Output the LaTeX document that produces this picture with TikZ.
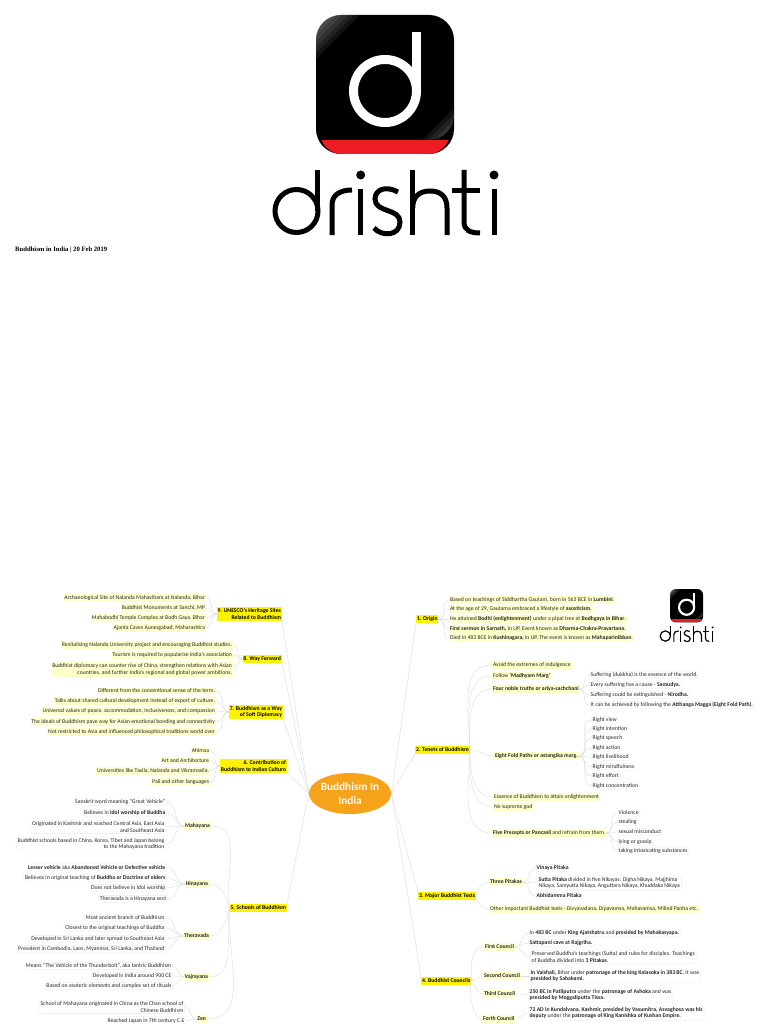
\documentclass[tikz,border=0pt]{standalone}
\usepackage{fontspec}
\usetikzlibrary{shapes.geometric}
\setmainfont{Carlito}
\newfontfamily\hdrfont{Liberation Serif}
\definecolor{leafy}{HTML}{FFFFCC}
\definecolor{hubor}{HTML}{F5A31A}
\definecolor{linegray}{HTML}{DCDCDC}
\definecolor{txt}{HTML}{262626}
\definecolor{logored}{HTML}{ED1C24}
\newcommand\B[1]{\textbf{#1}}
\newcommand\drishtilogo[3]{%
\begin{scope}[shift={(#2,#3)},scale=#1]
 \fill[black,rounded corners=#1*25pt] (316,15) rectangle (454,154);
 \begin{scope}
  \clip[rounded corners=#1*22pt] (320,100) rectangle (450,154);
  \fill[logored] (316,140) rectangle (454,154);
 \end{scope}
 \begin{scope}
  \clip[rounded corners=#1*25pt] (316,15) rectangle (454,140);
  \foreach \i in {14,20,...,44}{\fill[white,opacity=.07] (316,15) -- (316+\i,15) -- (316,15+\i) -- cycle;}
  \foreach \i in {8,14,...,32}{\fill[white,opacity=.07] (454,140) -- (454-\i,140) -- (454,140-\i) -- cycle;}
 \end{scope}
 \draw[white,line width=#1*9pt] (385,91) circle[radius=31.5];
 \draw[white,line width=#1*9pt] (416.5,32) -- (416.5,91);
 \begin{scope}[black,line width=#1*5pt]
  \draw (296.5,211) circle[radius=21.5];
  \draw (317.5,170) -- (317.5,211);
  \draw (332,235) -- (332,205) .. controls (332,195) and (340,190) .. (352,190);
  \draw (360.7,189) -- (360.7,235);
  \fill (360.7,175) circle[radius=4.5];
  \draw (398,192) .. controls (385,185) and (375,190) .. (375,199) .. controls (375,213) and (400,208) .. (400,222) .. controls (400,236) and (382,237) .. (374,228);
  \draw (412.7,170) -- (412.7,235);
  \draw (412.7,208) .. controls (412.7,196) and (420,191) .. (430,191) .. controls (440,191) and (447,196) .. (447,208) -- (447,235);
  \draw (464,170) -- (464,222) .. controls (464,230) and (470,233) .. (480,233);
  \draw (452,191) -- (480,191);
  \draw (494,189) -- (494,235);
  \fill (494,175) circle[radius=4.5];
 \end{scope}
\end{scope}}
\tikzset{
 every node/.style={font=\fontsize{5.72}{6.8}\selectfont,text=txt,inner xsep=.8pt,inner ysep=1.2pt},
 leaf/.style={fill=leafy},
 pill/.style={fill=white,draw=black!8,line width=.3pt,rounded corners=3pt,inner xsep=1.5pt},
 branch/.style={fill=yellow,font=\fontsize{5.72}{6.8}\selectfont\bfseries,text=black,minimum height=8pt},
 sub/.style={fill=leafy,font=\fontsize{5.72}{6.8}\selectfont\bfseries,minimum height=8pt},
 Lside/.style={anchor=east,align=right},
 Rside/.style={anchor=west,align=left},
 conn/.style={draw=linegray,line width=.4pt},
}
\begin{document}
\begin{tikzpicture}[x=1pt,y=-1pt]
\useasboundingbox[fill=white] (0,0) rectangle (768,1024);
\drishtilogo{1}{0}{0}
\drishtilogo{.24}{594.16}{585.4}
\node[anchor=west,font=\hdrfont\fontsize{6.65}{8}\selectfont\bfseries,text=black,inner sep=0pt] (title) at (15,250) {Buddhism in India | 20 Feb 2019};

\node[ellipse,fill=hubor,minimum width=82pt,minimum height=41pt,inner sep=0pt,align=center,text=white,font=\fontsize{11.2}{14}\selectfont\bfseries] (c) at (350,793.5) {Buddhism In\\India};

% left: 9
\node[branch,Lside] (n9) at (282,614) {9. UNESCO's Heritage Sites\\Related to Buddhism};
\node[leaf,Lside] (a1) at (206,598) {Archaeological Site of Nalanda Mahavihara at Nalanda, Bihar};
\node[leaf,Lside] (a2) at (206,608) {Buddhist Monuments at Sanchi, MP};
\node[leaf,Lside] (a3) at (206,618) {Mahabodhi Temple Complex at Bodh Gaya, Bihar};
\node[leaf,Lside] (a4) at (206,628) {Ajanta Caves Aurangabad, Maharashtra};
% 8
\node[branch,Lside] (n8) at (282,659) {8. Way Forward};
\node[leaf,Lside] (b1) at (233,645) {Revitalising Nalanda University project and encouraging Buddhist studies.};
\node[leaf,Lside] (b2) at (233,655) {Tourism is required to popularise India's association};
\node[leaf,Lside] (b3) at (233,669.5) {Buddhist diplomacy can counter rise of China, strengthen relations with Asian\\countries, and further India's regional and global power ambitions.};
% 7
\node[branch,Lside] (n7) at (283,712) {7. Buddhism as a Way\\of Soft Diplomacy};
\node[leaf,Lside] (d1) at (216,691) {Different from the conventional sense of the term.};
\node[leaf,Lside] (d2) at (216,701) {Talks about shared cultural development instead of export of culture.};
\node[leaf,Lside] (d3) at (216,711) {Universal values of peace, accommodation, inclusiveness, and compassion};
\node[leaf,Lside] (d4) at (216,722) {The ideals of Buddhism pave way for Asian emotional bonding and connectivity};
\node[leaf,Lside] (d5) at (216,732) {Not restricted to Asia and influenced philosophical traditions world over};
% 6
\node[branch,Lside] (n6) at (287,766) {6. Contribution of\\Buddhism to Indian Culture};
\node[leaf,Lside] (e1) at (210,751) {Ahimsa};
\node[leaf,Lside] (e2) at (210,761) {Art and Architecture};
\node[leaf,Lside] (e3) at (210,771) {Universities like Taxila, Nalanda and Vikramasila.};
\node[leaf,Lside] (e4) at (210,782) {Pali and other languages};
% 5
\node[branch,Lside] (n5) at (287,908) {5. Schools of Buddhism};
\node[sub,Lside] (m) at (211,826) {Mahayana};
\node[pill,Lside] (m1) at (167,802) {Sanskrit word meaning ``Great Vehicle''};
\node[pill,Lside] (m2) at (167,813) {Believes in \B{Idol worship of Buddha}};
\node[pill,Lside] (m3) at (166,827) {Originated in Kashmir and reached Central Asia, East Asia\\and Southeast Asia};
\node[pill,Lside] (m4) at (166,844) {Buddhist schools based in China, Korea, Tibet and Japan belong\\to the Mahayana tradition};
\node[sub,Lside] (h) at (209,884) {Hinayana};
\node[pill,Lside] (h1) at (167,867) {\B{Lesser vehicle} aka \B{Abandoned Vehicle or Defective vehicle}};
\node[pill,Lside] (h2) at (167,878) {Believes in original teaching of \B{Buddha or Doctrine of elders}};
\node[pill,Lside] (h3) at (167,888) {Does not believe in Idol worship};
\node[pill,Lside] (h4) at (168,899) {Theravada is a Hinayana sect};
\node[sub,Lside] (t) at (210,936) {Theravada};
\node[pill,Lside] (t1) at (166,918) {Most ancient branch of Buddhism};
\node[pill,Lside] (t2) at (166,928) {Closest to the original teachings of Buddha};
\node[pill,Lside] (t3) at (166,939) {Developed in Sri Lanka and later spread to Southeast Asia};
\node[pill,Lside] (t4) at (166,949) {Prevalent in Cambodia, Laos, Myanmar, Sri Lanka, and Thailand};
\node[sub,Lside] (v) at (209,977) {Vajrayana};
\node[pill,Lside] (v1) at (173,966) {Means ``The Vehicle of the Thunderbolt'', aka tantric Buddhism};
\node[pill,Lside] (v2) at (173,976) {Developed in India around 900 CE};
\node[pill,Lside] (v3) at (173,986) {Based on esoteric elements and complex set of rituals};
\node[sub,Lside] (z) at (207,1019) {Zen};
\node[pill,Lside] (z1) at (185,1007) {School of Mahayana originated in China as the Chan school of\\Chinese Buddhism};
\node[pill,Lside] (z2) at (186,1020.5) {Reached Japan in 7th century C.E};

% right: 1
\node[branch,Rside] (n1) at (416,619) {1. Origin};
\node[leaf,Rside] (o1) at (449,600) {Based on teachings of Siddhartha Gautam, born in 563 BCE in \B{Lumbini}.};
\node[leaf,Rside] (o2) at (449,609) {At the age of 29, Gautama embraced a lifestyle of \B{asceticism}.};
\node[leaf,Rside] (o3) at (449,619) {He attained \B{Bodhi (enlightenment)} under a pipal tree at \B{Bodhgaya in Bihar}.};
\node[leaf,Rside] (o4) at (449,629) {\B{First sermon in Sarnath,} in UP, Event known as \B{Dharma-Chakra-Pravartana}.};
\node[leaf,Rside] (o5) at (449,638) {Died in 483 BCE in \B{Kushinagara,} in UP. The event is known as \B{Mahaparinibban}.};
% 2
\node[branch,Rside] (n2) at (415,750) {2. Tenets of Buddhism};
\node[leaf,Rside] (p1) at (492,665) {Avoid the extremes of indulgence};
\node[leaf,Rside] (p2) at (492,676) {Follow \B{'Madhyam Marg'}};
\node[sub,Rside] (p3) at (492,689) {Four noble truths or ariya-sachchani};
\node[pill,Rside] (q1) at (589,675) {Suffering (dukkha) is the essence of the world.};
\node[pill,Rside] (q2) at (589,685) {Every suffering has a cause - \B{Samudya.}};
\node[pill,Rside] (q3) at (589,695) {Suffering could be extinguished - \B{Nirodha.}};
\node[pill,Rside] (q4) at (589,705) {It can be achieved by following the \B{Atthanga Magga (Eight Fold Path).}};
\node[sub,Rside] (p4) at (494,756) {Eight Fold Paths or astangika marg.};
\node[pill,Rside] (r1) at (591,720) {Right view};
\node[pill,Rside] (r2) at (591,729) {Right intention};
\node[pill,Rside] (r3) at (591,738) {Right speech};
\node[pill,Rside] (r4) at (591,748) {Right action};
\node[pill,Rside] (r5) at (591,757) {Right livelihood};
\node[pill,Rside] (r6) at (591,767) {Right mindfulness};
\node[pill,Rside] (r7) at (591,776) {Right effort};
\node[pill,Rside] (r8) at (591,786) {Right concentration};
\node[leaf,Rside] (p5) at (493,797) {Essence of Buddhism to attain enlightenment};
\node[leaf,Rside] (p6) at (493,807) {No supreme god};
\node[leaf,Rside] (p7) at (492,833) {\B{Five Precepts or Pancasil} and refrain from them.};
\node[pill,Rside] (s1) at (617,813) {Violence};
\node[pill,Rside] (s2) at (617,822) {stealing};
\node[pill,Rside] (s3) at (617,832) {sexual misconduct};
\node[pill,Rside] (s4) at (617,842) {lying or gossip};
\node[pill,Rside] (s5) at (617,851) {taking intoxicating substances};
% 3
\node[branch,Rside] (n3) at (418,896) {3. Major Buddhist Texts};
\node[sub,Rside] (w1) at (489,882) {Three Pitakas};
\node[pill,Rside] (w11) at (535,868) {\B{Vinaya Pitaka}};
\node[pill,Rside] (w12) at (537,883) {\B{Sutta Pitaka} divided in five Nikayas: Digha Nikaya, Majjhima\\Nikaya, Samyutta Nikaya, Anguttara Nikaya, Khuddaka Nikaya};
\node[pill,Rside] (w13) at (535,896) {\B{Abhidamma Pitaka}};
\node[leaf,Rside] (w2) at (489,909) {Other important Buddhist texts - Divyavadana, Dipavamsa, Mahavamsa, Milind Panha etc.};
% 4
\node[branch,Rside] (n4) at (421,981) {4. Buddhist Councils};
\node[sub,Rside] (x1) at (484,947) {First Council};
\node[pill,Rside] (x11) at (528,933) {In \B{483 BC} under \B{King Ajatshatru} and \B{presided by Mahakasyapa.}};
\node[pill,Rside] (x12) at (528,943) {\B{Sattapani cave at Rajgriha.}};
\node[pill,Rside] (x13) at (530,957) {Preserved Buddha's teachings (Sutta) and rules for disciples. Teachings\\of Buddha divided into \B{3 Pitakas}.};
\node[sub,Rside] (x2) at (483,976) {Second Council};
\node[pill,Rside] (x21) at (529,976) {\B{In Vaishali,} Bihar under \B{patronage of the king Kalasoka in 383 BC.} It was\\\B{presided by Sabakami.}};
\node[sub,Rside] (x3) at (483,994) {Third Council};
\node[pill,Rside] (x31) at (528,995) {\B{250 BC in Patliputra} under the \B{patronage of Ashoka} and was\\\B{presided by Moggaliputta Tissa.}};
\node[sub,Rside] (x4) at (482,1019) {Forth Council};
\node[pill,Rside] (x41) at (528,1013) {\B{72 AD in Kundalvana, Kashmir, presided by Vasumitra, Asvaghosa was his}\\\B{deputy} under the \B{patronage of King Kanishka of Kushan Empire.}};

% hub connectors
\foreach \n in {n9,n8,n7,n6}{\draw[conn] (c.west) -- (\n.south east);}
\draw[conn] (c.west) -- (n5.north east);
\draw[conn] (c.east) -- (n1.south west);
\draw[conn] (c.east) -- (n2.south west);
\draw[conn] (c.east) -- (n3.north west);
\draw[conn] (c.east) -- (n4.north west);
% left leaves
\foreach \f/\l in {n9/a1,n9/a2,n9/a3,n9/a4,n8/b1,n8/b2,n8/b3,n7/d1,n7/d2,n7/d3,n7/d4,n7/d5,n6/e1,n6/e2,n6/e3,n6/e4,
 m/m1,m/m2,m/m3,m/m4,h/h1,h/h2,h/h3,h/h4,t/t1,t/t2,t/t3,t/t4,v/v1,v/v2,v/v3,z/z1,z/z2}
 {\draw[conn] (\f.west) to[out=180,in=0] (\l.east);}
\draw[conn] (m.east) to[out=0,in=100] (n5.west);
\draw[conn] (h.east) to[out=0,in=110] (n5.west);
\draw[conn] (t.east) to[out=0,in=250] (n5.west);
\draw[conn] (v.east) to[out=0,in=260] (n5.west);
\draw[conn] (z.east) to[out=0,in=265] (n5.west);
% right leaves
\foreach \f/\l in {n1/o1,n1/o2,n1/o3,n1/o4,n1/o5,p3/q1,p3/q2,p3/q3,p3/q4,p4/r1,p4/r2,p4/r3,p4/r4,p4/r5,p4/r6,p4/r7,p4/r8,
 p7/s1,p7/s2,p7/s3,p7/s4,p7/s5,w1/w11,w1/w12,w1/w13,x1/x11,x1/x12,x1/x13,x2/x21,x3/x31,x4/x41}
 {\draw[conn] (\f.east) to[out=0,in=180] (\l.west);}
\foreach \l in {p1,p2,p3}{\draw[conn] (n2.east) to[out=90,in=180] (\l.west);}
\draw[conn] (n2.east) to[out=0,in=180] (p4.west);
\foreach \l in {p5,p6,p7}{\draw[conn] (n2.east) to[out=270,in=180] (\l.west);}
\draw[conn] (n3.east) to[out=80,in=180] (w1.west);
\draw[conn] (n3.east) to[out=280,in=180] (w2.west);
\foreach \l in {x1,x3,x4}{\draw[conn] (n4.east) to[out=90,in=180] (\l.west);}
\draw[conn] (n4.east) -- (x2.west);
\end{tikzpicture}
\end{document}
